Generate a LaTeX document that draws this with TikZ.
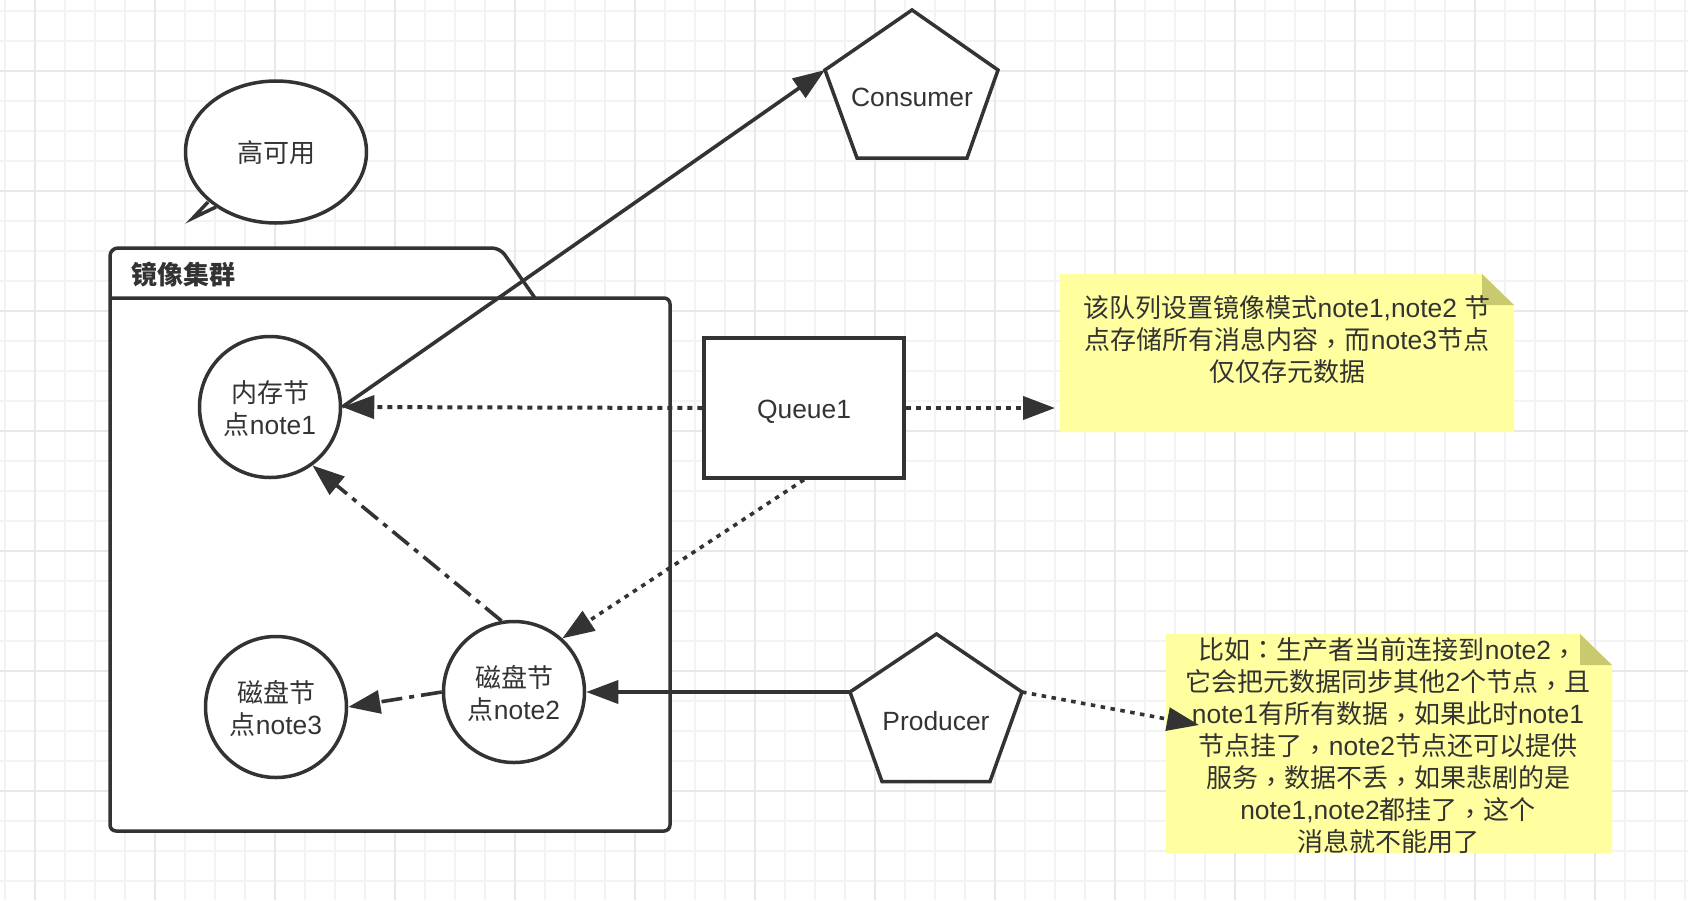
\documentclass[tikz,border=0pt]{standalone}
\usepackage{fontspec}
\setmainfont[Scale=1.015]{Liberation Sans}
\newfontfamily\cjk{Noto Sans CJK SC}
\newfontfamily\cjkmid{Noto Sans CJK TC}
\newcommand{\C}[1]{{\cjk #1}}
\newcommand{\Comma}{{\cjkmid\lower.14em\hbox{，}}}
\newcommand{\Colon}{{\cjkmid ：}}
\usetikzlibrary{arrows.meta,shapes.geometric}
\definecolor{ink}{HTML}{333333}
\definecolor{gridminor}{HTML}{F3F3F3}
\definecolor{gridmajor}{HTML}{E8E8E8}
\definecolor{stickyfill}{HTML}{FFFF9F}
\definecolor{stickyfold}{HTML}{C9C96F}
\tikzset{
  every node/.style={text=ink,font=\fontsize{26}{32}\selectfont},
  gminor/.style={draw=gridminor,line width=2pt},
  gmajor/.style={draw=gridmajor,line width=2pt},
  shape line/.style={draw=ink,line width=3.5pt,fill=white},
  memnode/.style={shape=circle,shape line,minimum size=141pt,inner sep=0pt,align=center,text depth=0pt},
  rectnode/.style={shape=rectangle,shape line,minimum width=200pt,minimum height=140pt,inner sep=0pt,text height=21pt,text depth=0pt},
  label text/.style={align=center,inner sep=0pt},
  sticky/.style={fill=stickyfill},
  fold/.style={fill=stickyfold},
  arrowed/.style={draw=ink,-{Triangle[length=32pt,width=23pt]}},
  solidlink/.style={arrowed,line width=3.6pt},
  dotlink/.style={arrowed,line width=4pt,dash pattern=on 5pt off 5pt},
  thindot/.style={arrowed,line width=3.6pt,dash pattern=on 4.5pt off 5.5pt},
  dashdot/.style={arrowed,line width=3.6pt,dash pattern=on 21pt off 7pt on 5pt off 7pt},
}
\begin{document}
\begin{tikzpicture}[x=1pt,y=-1pt]
\useasboundingbox (0,0) rectangle (1688,900);
\fill[white] (0,0) rectangle (1688,900);
% grid
\foreach \k in {0,...,56} \draw[gminor] ({5+30*\k},0) -- ({5+30*\k},900);
\foreach \k in {0,...,29} \draw[gminor] (0,{11+30*\k}) -- (1688,{11+30*\k});
\foreach \k in {0,...,13} \draw[gmajor] ({35+120*\k},0) -- ({35+120*\k},900);
\foreach \k in {0,...,7} \draw[gmajor] (0,{71+120*\k}) -- (1688,{71+120*\k});

% callout
\node[shape=ellipse,shape line,minimum width=181pt,minimum height=142pt,inner sep=0pt,text depth=0pt] (bubble) at (276,152) {\C{高可用}};
\coordinate (tailA) at (208,202);
\coordinate (tailB) at (216,207);
\coordinate (tailTip) at (193,218);
\fill[white] (tailA) -- (tailTip) -- (tailB) -- cycle;
\draw[draw=ink,line width=3.5pt] (tailA) -- (tailTip) -- (tailB);

% package
\draw[shape line,rounded corners=8pt] (110,298) -- (110,248) -- (500,248) -- (535,298);
\draw[shape line,rounded corners=6pt] (110,298) -- (670,298) -- (670,831) -- (110,831) -- (110,298);
\node[label text,anchor=west] (pkgtitle) at (131,275) {\C{\bfseries 镜像集群}};

% nodes
\node[memnode] (n1) at (270,407) {\raisebox{-1.5pt}{\C{内存节}}\\\raisebox{-1.5pt}{\C{点}note1}};
\node[memnode] (n3) at (276,707) {\raisebox{-1.5pt}{\C{磁盘节}}\\\raisebox{-1.5pt}{\C{点}note3}};
\node[memnode] (n2) at (514,692) {\raisebox{-1pt}{\C{磁盘节}}\\\raisebox{-1pt}{\C{点}note2}};
\node[rectnode] (q) at (804,408) {Queue1};

% consumer pentagon
\coordinate (cT) at (912,10);
\coordinate (cR) at (998,70);
\coordinate (cBR) at (967,158);
\coordinate (cBL) at (857,158);
\coordinate (cL) at (825,70);
\draw[shape line,line join=miter] (cT) -- (cR) -- (cBR) -- (cBL) -- (cL) -- cycle;
\node[label text] (consumer) at (912,97) {Consumer};

% producer pentagon
\coordinate (pT) at (936.5,634);
\coordinate (pR) at (1022,692);
\coordinate (pBR) at (990,781.5);
\coordinate (pBL) at (882,781.5);
\coordinate (pL) at (850,692);
\draw[shape line,line join=miter] (pT) -- (pR) -- (pBR) -- (pBL) -- (pL) -- cycle;
\node[label text] (producer) at (936,721) {Producer};

% sticky notes
\fill[sticky] (1060,274) -- (1482,274) -- (1514,305) -- (1514,432) -- (1060,432) -- cycle;
\fill[fold] (1482,274) -- (1514,305) -- (1482,305) -- cycle;
\node[label text] (noteA) at (1287,340) {\C{该队列设置镜像模式}note1,note2 \C{节}\\\C{点存储所有消息内容}\Comma\C{而}note3\C{节点}\\\C{仅仅存元数据}};
\coordinate (noteAin) at (1055,408);

\fill[sticky] (1166,634) -- (1580,634) -- (1612,665) -- (1612,853) -- (1166,853) -- cycle;
\fill[fold] (1580,634) -- (1612,665) -- (1580,665) -- cycle;
\node[label text] (noteB) at (1388,746) {\C{比如}\Colon\C{生产者当前连接到}note2\Comma\\\C{它会把元数据同步其他}2\C{个节点}\Comma\C{且}\\note1\C{有所有数据}\Comma\C{如果此时}note1\\\C{节点挂了}\Comma note2\C{节点还可以提供}\\\C{服务}\Comma\C{数据不丢}\Comma\C{如果悲剧的是}\\note1,note2\C{都挂了}\Comma\C{这个}\\\C{消息就不能用了}};
\coordinate (noteBin) at (1199,725);

% connectors
\draw[solidlink] (n1.east) -- (cL);
\draw[dotlink] (q.west) -- (n1.east);
\draw[dotlink] (q.east) -- (noteAin);
\draw[thindot] (q.south) -- (n2.48);
\draw[dashdot] (n2.100) -- (n1.-54);
\draw[dashdot] (n2.west) -- (n3.east);
\draw[solidlink] (pL) -- (n2.east);
\draw[thindot] (pR) -- (noteBin);
\end{tikzpicture}
\end{document}
